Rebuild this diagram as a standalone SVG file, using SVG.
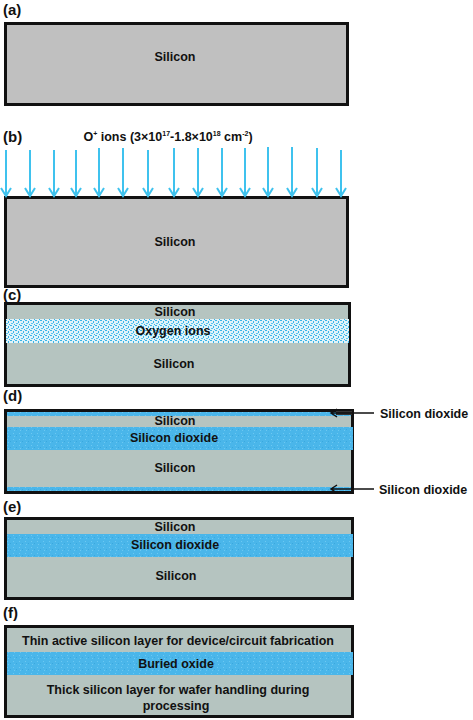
<svg xmlns="http://www.w3.org/2000/svg" width="473" height="720" viewBox="0 0 473 720">
<style>
text{font-family:"Liberation Sans",Arial,sans-serif;font-weight:bold;fill:#111}
.lab{font-size:15px}
.t{font-size:12.5px;text-anchor:middle}
.box{stroke:#111;stroke-width:3}
.si1{fill:#c0c0c0}
.si2{fill:#b5c4c0}
.ox{fill:url(#oxp)}
.ions{fill:url(#ionp)}
.arr{stroke:#3fc2ee;stroke-width:2;fill:none}
.ptr{stroke:#111;stroke-width:1.5;fill:none}
</style>
<defs>
<pattern id="oxp" width="6" height="6" patternUnits="userSpaceOnUse">
<rect width="6" height="6" fill="#4ab6ea"/>
<rect x="1" y="1" width="1" height="1" fill="#6cc8f2"/>
<rect x="4" y="3" width="1" height="1" fill="#3aa8de"/>
<rect x="2" y="4" width="1" height="1" fill="#6cc8f2"/>
</pattern>
<pattern id="ionp" width="5" height="5" patternUnits="userSpaceOnUse">
<rect width="5" height="5" fill="#dff3fa"/>
<rect x="0" y="0" width="2" height="1" fill="#3ab4e6"/>
<rect x="3" y="1" width="1" height="2" fill="#3ab4e6"/>
<rect x="1" y="3" width="2" height="1" fill="#5cc4ee"/>
<rect x="4" y="4" width="1" height="1" fill="#3ab4e6"/>
</pattern>
</defs>

<g id="panel-a">
<text class="lab" x="3" y="15">(a)</text>
<rect class="box si1" x="5.5" y="23.5" width="342" height="81"/>
<text class="t" x="175" y="61">Silicon</text>
</g>

<g id="panel-b">
<text class="lab" x="3" y="142">(b)</text>
<text x="168" y="141" font-size="12.5" text-anchor="middle">O<tspan font-size="7" dy="-5">+</tspan><tspan dy="5"> ions (3×10</tspan><tspan font-size="7" dy="-5">17</tspan><tspan dy="5">-1.8×10</tspan><tspan font-size="7" dy="-5">18</tspan><tspan dy="5"> cm</tspan><tspan font-size="7" dy="-5">-2</tspan><tspan dy="5">)</tspan></text>
<rect class="box si1" x="5.5" y="197.5" width="342" height="89"/>
<text class="t" x="175" y="246">Silicon</text>
</g>

<g id="panel-c">
<text class="lab" x="3" y="300">(c)</text>
<rect class="box si2" x="5.5" y="303.5" width="344" height="82"/>
<rect class="ions" x="6" y="319" width="343" height="24"/>
<text class="t" x="175" y="316">Silicon</text>
<text class="t" x="173" y="335">Oxygen ions</text>
<text class="t" x="174" y="368">Silicon</text>
</g>

<g id="panel-d">
<text class="lab" x="3" y="401">(d)</text>
<rect class="box si2" x="5.5" y="410.5" width="347" height="82"/>
<rect class="ox" x="7" y="412" width="344" height="4"/>
<rect class="ox" x="7" y="427" width="346" height="23"/>
<rect class="ox" x="7" y="487" width="344" height="4"/>
<text class="t" x="175" y="425">Silicon</text>
<text class="t" x="174" y="442">Silicon dioxide</text>
<text class="t" x="175" y="472">Silicon</text>
<text x="380" y="418" font-size="12.5">Silicon dioxide</text>
<text x="379" y="494" font-size="12.5">Silicon dioxide</text>
</g>

<g id="panel-e">
<text class="lab" x="3" y="512">(e)</text>
<rect class="box si2" x="5.5" y="518.5" width="347" height="80"/>
<rect class="ox" x="7" y="534" width="346" height="23"/>
<text class="t" x="175" y="531">Silicon</text>
<text class="t" x="175" y="549">Silicon dioxide</text>
<text class="t" x="176" y="580">Silicon</text>
</g>

<g id="panel-f">
<text class="lab" x="3" y="618">(f)</text>
<rect class="box si2" x="5.5" y="626.5" width="347" height="90"/>
<rect class="ox" x="7" y="652" width="346" height="23"/>
<text class="t" x="178" y="645">Thin active silicon layer for device/circuit fabrication</text>
<text class="t" x="176" y="668">Buried oxide</text>
<text class="t" x="178" y="694">Thick silicon layer for wafer handling during</text>
<text class="t" x="176" y="710">processing</text>
</g>

<g id="connectors">
<g class="arr">
<path d="M6 150V196M1 188L6 196L11 188"/>
<path d="M30 150V196M25 188L30 196L35 188"/>
<path d="M54 150V196M49 188L54 196L59 188"/>
<path d="M76 150V196M71 188L76 196L81 188"/>
<path d="M99 148V196M94 188L99 196L104 188"/>
<path d="M123 148V196M118 188L123 196L128 188"/>
<path d="M148 150V196M143 188L148 196L153 188"/>
<path d="M174 148V196M169 188L174 196L179 188"/>
<path d="M198 148V196M193 188L198 196L203 188"/>
<path d="M222 148V196M217 188L222 196L227 188"/>
<path d="M245 148V196M240 188L245 196L250 188"/>
<path d="M268 147V196M263 188L268 196L273 188"/>
<path d="M292 147V196M287 188L292 196L297 188"/>
<path d="M317 148V196M312 188L317 196L322 188"/>
<path d="M341 150V196M336 188L341 196L346 188"/>
</g>
<rect x="336" y="411" width="16" height="4" fill="#333"/>
<g class="ptr">
<path d="M374 413H331M337 409L331 413L337 417"/>
<path d="M374 489H331M337 485L331 489L337 493"/>
</g>
</g>
</svg>
